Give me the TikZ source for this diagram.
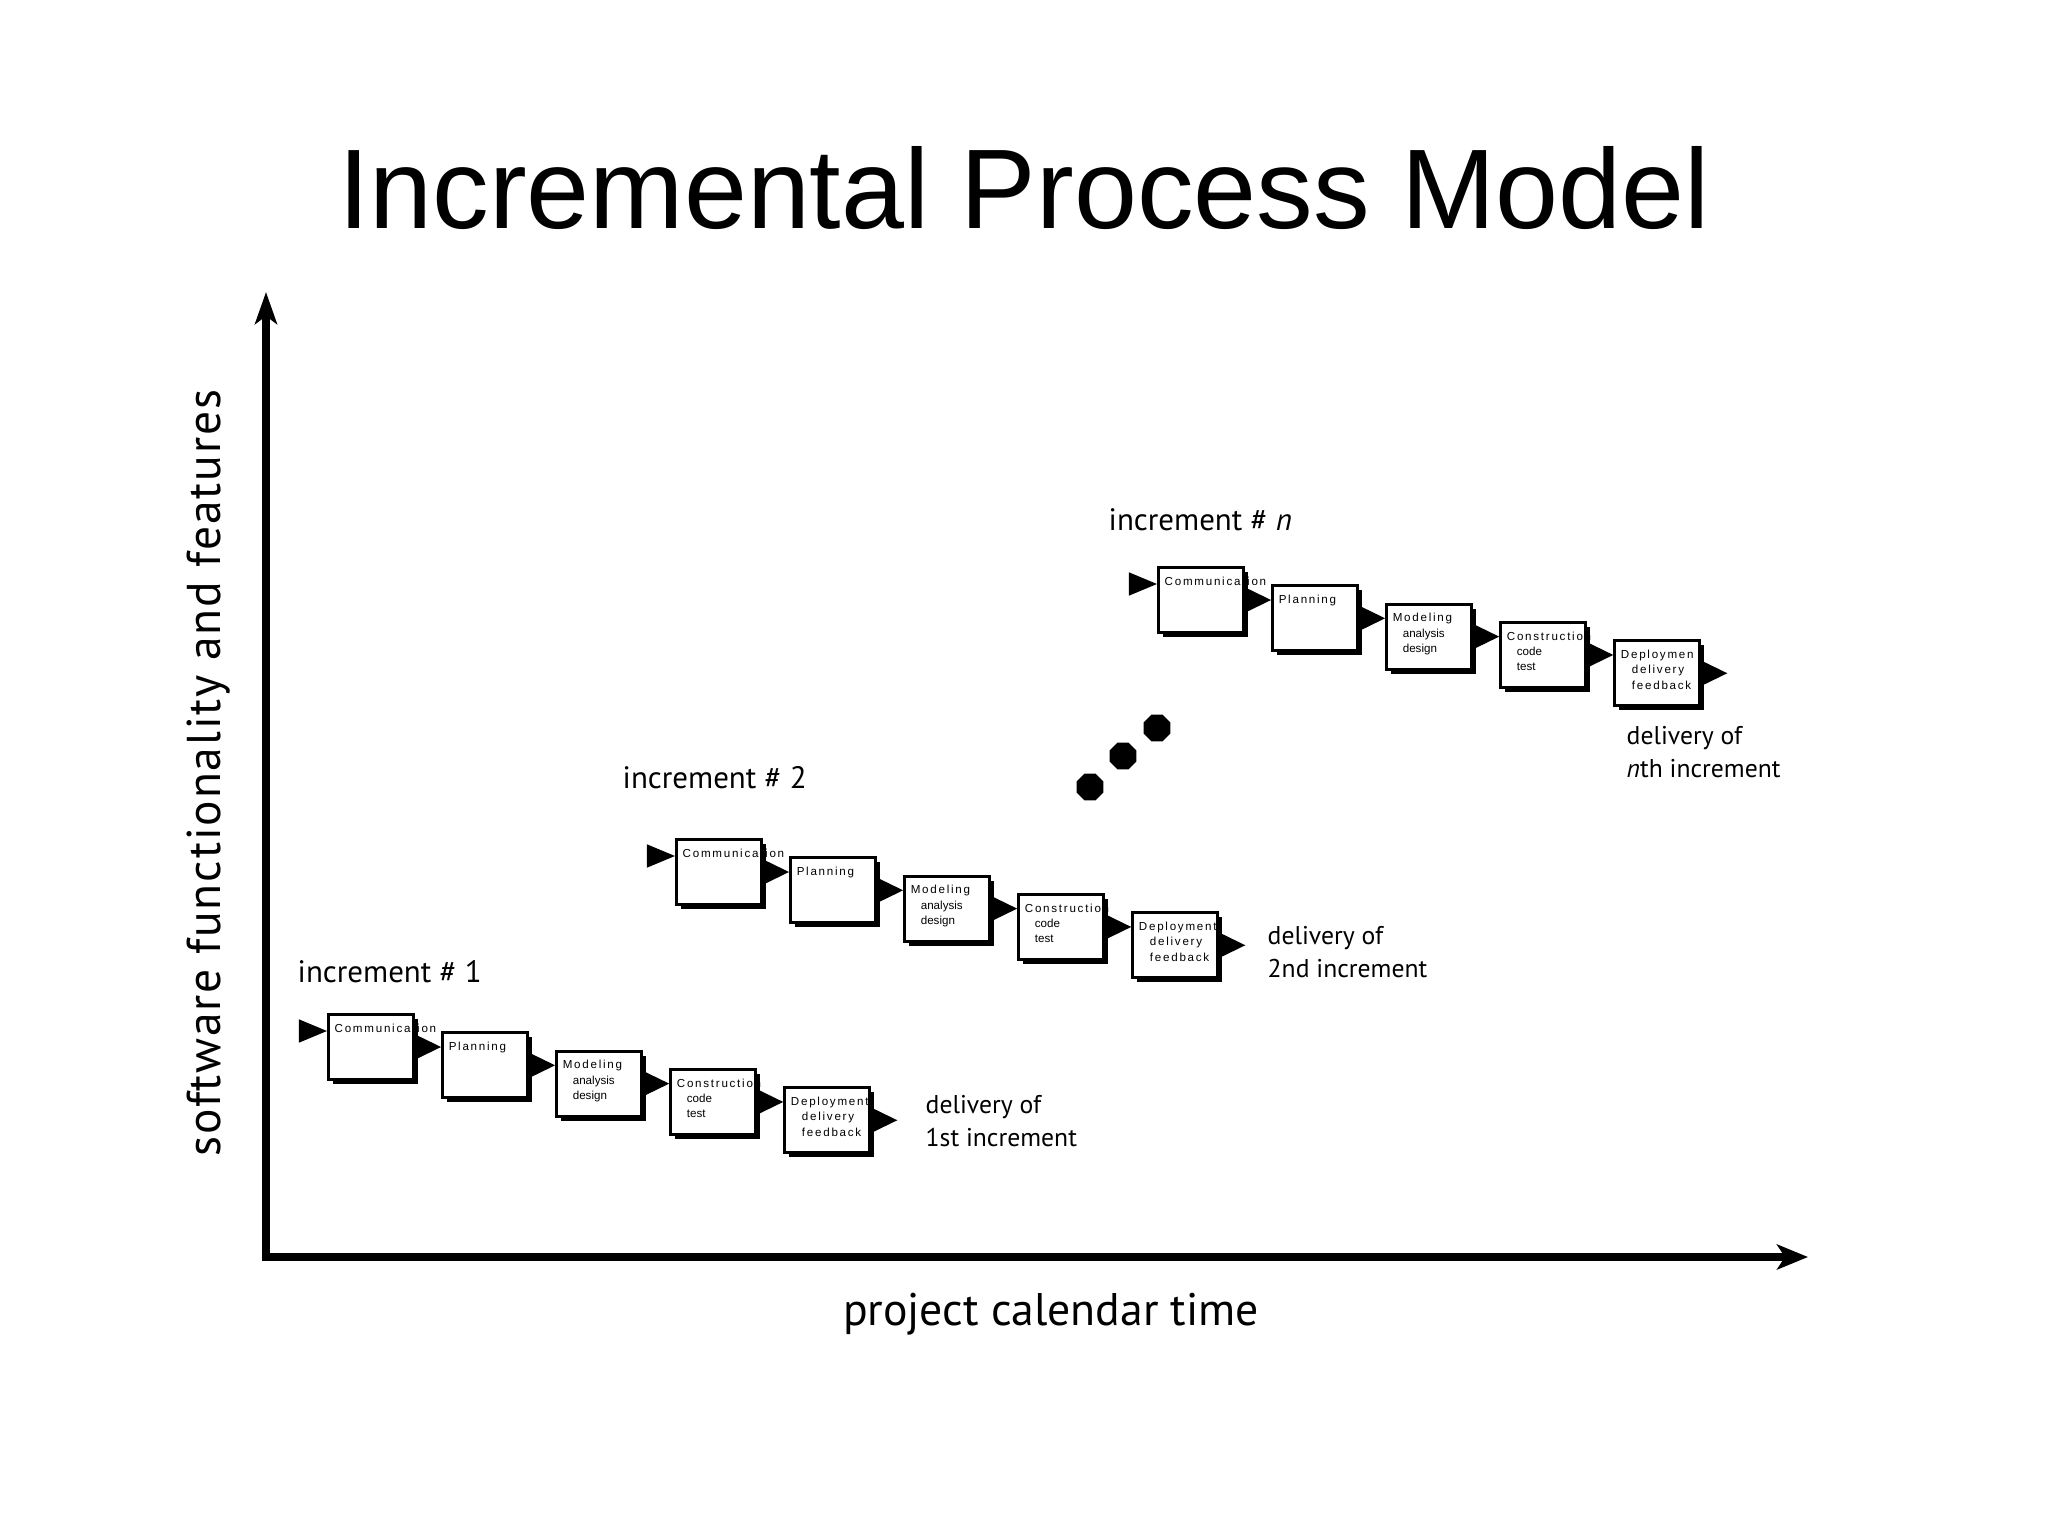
\documentclass[tikz,border=0pt]{standalone}
\usepackage{fontspec}
\setmainfont{PT Sans}
\newfontfamily\titlefont{Liberation Sans}
\newfontfamily\phasefont[LetterSpace=15]{Liberation Sans}
\newfontfamily\taskfont{Liberation Sans}
\usepackage{tikz}
\usetikzlibrary{arrows.meta, positioning, shadows, shapes.geometric}

\newcommand{\subtask}[1]{\hspace*{0.1cm}{\taskfont #1}}
\newcommand{\subspaced}[1]{\hspace*{0.11cm}#1}

\begin{document}
\begin{tikzpicture}[
    x=0.01cm, y=-0.01cm,
    node distance=0.26cm,
    stage/.style={rectangle, draw, line width=0.03cm, fill=white, minimum width=0.85cm, minimum height=0.65cm, inner sep=0pt,
        drop shadow={shadow xshift=0.045cm, shadow yshift=-0.045cm, fill=black, opacity=1},
        label={[phasetxt]north west:{#1}}},
    phasetxt/.style={anchor=north west, inner sep=0pt, xshift=0.07cm, yshift=-0.1cm, align=left,
        font=\fontsize{3.3}{4.4}\selectfont\phasefont},
    flow/.style={-{Triangle[length=0.25cm, width=0.24cm]}, line width=0.4pt},
    entry/.style={-{Triangle[length=0.28cm, width=0.23cm]}, line width=0.4pt},
    axis/.style={line width=0.08cm, line join=miter},
    inclabel/.style={anchor=base west, inner sep=0pt, font=\fontsize{8.8}{11}\selectfont},
    dellabel/.style={anchor=north west, inner sep=0pt, align=left, font=\fontsize{7.3}{9.4}\selectfont},
    dotmark/.style={regular polygon, regular polygon sides=8, fill, minimum size=0.29cm, inner sep=0pt}
]
\useasboundingbox (0,0) rectangle (2048,1536);

\node[anchor=base, font=\titlefont\fontsize{32.2}{38}\selectfont] (title) at (1024,228) {Incremental Process Model};

% axes
\coordinate (origin) at (266,1257);
\coordinate (ytop) at (266,292);
\coordinate (xend) at (1808,1257);
\draw[axis, {Stealth[length=0.32cm, width=0.22cm, inset=0.08cm]}-{Stealth[length=0.31cm, width=0.25cm, inset=0.08cm]}] (ytop) -- (origin) -- (xend);
\node[rotate=90, font=\fontsize{13.5}{15}\selectfont\addfontfeature{LetterSpace=4}] (ylab) at (209,773) {software functionality and features};
\node[anchor=base, font=\fontsize{13}{15}\selectfont] (xlab) at (1051,1325) {project calendar time};

% increment 1
\node[inclabel] (inc1) at (297,982) {increment \# 1};
\node[stage={Communication}] (com1) at (371,1047) {};
\node[stage={Planning}, right=of com1, yshift=-0.183cm] (pla1) {};
\node[stage={Modeling\\\subtask{analysis}\\\subtask{design}}, right=of pla1, yshift=-0.183cm] (mod1) {};
\node[stage={Construction\\\subtask{code}\\\subtask{test}}, right=of mod1, yshift=-0.183cm] (con1) {};
\node[stage={Deployment\\\subspaced{delivery}\\\subspaced{feedback}}, right=of con1, yshift=-0.183cm] (dep1) {};
\coordinate[left=0.28cm of com1.north west, yshift=-0.18cm] (in1);
\coordinate[right=0.26cm of dep1] (out1);
\draw[entry] (in1) -- (in1 -| com1.west);
\draw[flow] (com1) -- (com1 -| pla1.west);
\draw[flow] (pla1) -- (pla1 -| mod1.west);
\draw[flow] (mod1) -- (mod1 -| con1.west);
\draw[flow] (con1) -- (con1 -| dep1.west);
\draw[flow] (dep1) -- (out1);
\node[dellabel] (del1) at (925,1095) {delivery of\\1st increment};

% increment 2
\node[inclabel] (inc2) at (622,788) {increment \# 2};
\node[stage={Communication}] (com2) at (719,872) {};
\node[stage={Planning}, right=of com2, yshift=-0.183cm] (pla2) {};
\node[stage={Modeling\\\subtask{analysis}\\\subtask{design}}, right=of pla2, yshift=-0.183cm] (mod2) {};
\node[stage={Construction\\\subtask{code}\\\subtask{test}}, right=of mod2, yshift=-0.183cm] (con2) {};
\node[stage={Deployment\\\subspaced{delivery}\\\subspaced{feedback}}, right=of con2, yshift=-0.183cm] (dep2) {};
\coordinate[left=0.28cm of com2.north west, yshift=-0.18cm] (in2);
\coordinate[right=0.26cm of dep2] (out2);
\draw[entry] (in2) -- (in2 -| com2.west);
\draw[flow] (com2) -- (com2 -| pla2.west);
\draw[flow] (pla2) -- (pla2 -| mod2.west);
\draw[flow] (mod2) -- (mod2 -| con2.west);
\draw[flow] (con2) -- (con2 -| dep2.west);
\draw[flow] (dep2) -- (out2);
\node[dellabel] (del2) at (1267,926) {delivery of\\2nd increment};

% dots between increments
\node[dotmark] (dot1) at (1090,787) {};
\node[dotmark] (dot2) at (1123,756) {};
\node[dotmark] (dot3) at (1157,728) {};

% increment n
\node[inclabel] (incn) at (1108,530) {increment \# \textit{n}};
\node[stage={Communication}] (comn) at (1201,600) {};
\node[stage={Planning}, right=of comn, yshift=-0.183cm] (plan) {};
\node[stage={Modeling\\\subtask{analysis}\\\subtask{design}}, right=of plan, yshift=-0.183cm] (modn) {};
\node[stage={Construction\\\subtask{code}\\\subtask{test}}, right=of modn, yshift=-0.183cm] (conn) {};
\node[stage={Deploymen\\\subspaced{delivery}\\\subspaced{feedback}}, right=of conn, yshift=-0.183cm] (depn) {};
\coordinate[left=0.28cm of comn.north west, yshift=-0.18cm] (inn);
\coordinate[right=0.26cm of depn] (outn);
\draw[entry] (inn) -- (inn -| comn.west);
\draw[flow] (comn) -- (comn -| plan.west);
\draw[flow] (plan) -- (plan -| modn.west);
\draw[flow] (modn) -- (modn -| conn.west);
\draw[flow] (conn) -- (conn -| depn.west);
\draw[flow] (depn) -- (outn);
\node[dellabel] (deln) at (1626,726) {delivery of\\\textit{n}th increment};
\end{tikzpicture}
\end{document}
